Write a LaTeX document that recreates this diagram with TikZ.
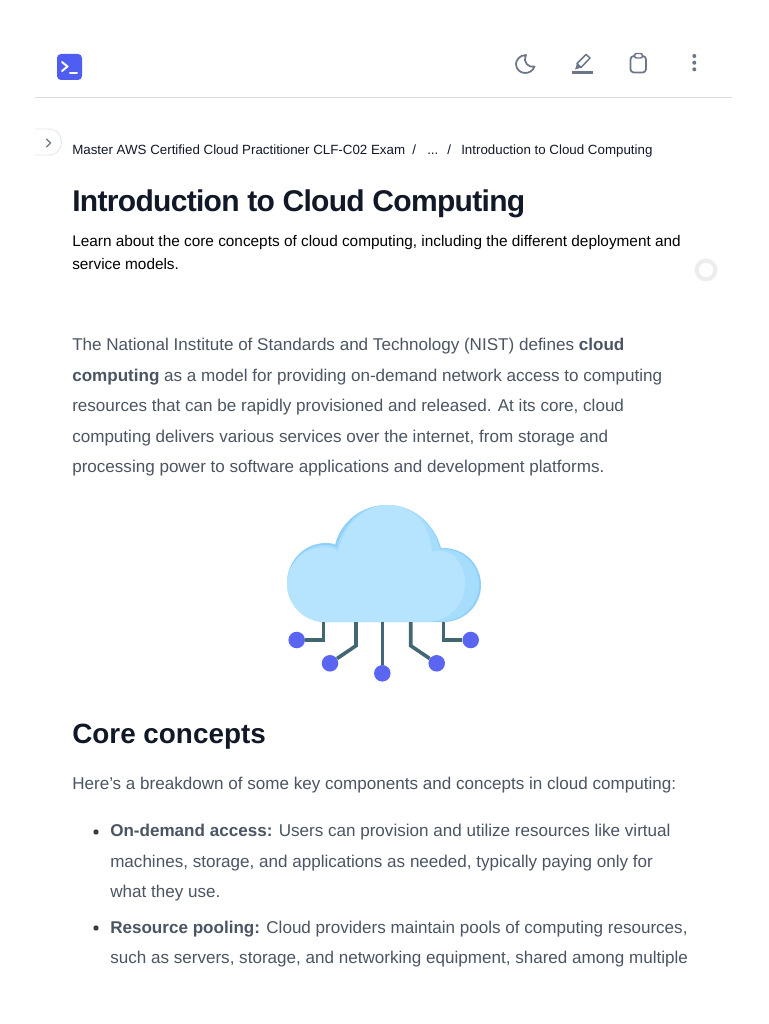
\documentclass[tikz,border=0pt]{standalone}
\usepackage{fontspec}
\setmainfont{Liberation Sans}
\newfontfamily\titlefont[LetterSpace=-2.3]{Liberation Sans}
\definecolor{inkdark}{HTML}{111827}
\definecolor{inkbody}{HTML}{4B5563}
\definecolor{inkicon}{HTML}{6B7688}
\definecolor{rulegrey}{HTML}{D9DDE2}
\definecolor{logoblue}{HTML}{4F5DF0}
\definecolor{cloudface}{HTML}{B6E3FD}
\definecolor{cloudshade}{HTML}{A6DCFC}
\definecolor{cloudrim}{HTML}{8FD0FB}
\definecolor{wirecol}{HTML}{426672}
\definecolor{dotblue}{HTML}{5A66F1}
\tikzset{
  crumb/.style={anchor=base west,inner sep=0pt,text=inkdark,font=\fontsize{10}{12}\selectfont},
  lead/.style={anchor=base west,inner sep=0pt,text=black,font=\fontsize{11.52}{13}\selectfont},
  bodyline/.style={anchor=base west,inner sep=0pt,text=inkbody,font=\fontsize{12.8}{14}\selectfont},
  wire/.style={draw=wirecol,line width=2.7pt},
  tipdot/.style={circle,fill=dotblue,minimum size=12.4pt,inner sep=0pt},
  iconline/.style={draw=inkicon,line width=1.3pt,line cap=round,line join=round}
}
\begin{document}
\begin{tikzpicture}[x=0.75pt,y=-0.75pt]
\useasboundingbox (0,0) rectangle (768,1024);
\fill[white] (0,0) rectangle (768,1024);

% top bar
\fill[logoblue,rounded corners=3pt] (57,54) rectangle (82,80);
\draw[white,line width=1.5pt,line cap=round,line join=round] (62,62) -- (67.5,66.5) -- (62,71);
\draw[white,line width=1.5pt,line cap=round] (70,73) -- (77,73);
\draw[iconline] (526,55) .. controls (519,55) and (516,61) .. (516,64) .. controls (516,69.5) and (520.5,73) .. (525,73) .. controls (529,73) and (533,71) .. (534.5,66.5) .. controls (529,68) and (522.5,63) .. (526,55);
\fill[inkicon] (575,69.5) -- (577,63.5) -- (581,67.5) -- cycle;
\draw[iconline,line width=1.1pt] (577,63.5) -- (586,54.5) -- (590,58) -- (581,67.5) -- cycle;
\draw[inkicon,line width=2.2pt] (571.5,72.8) -- (592.5,72.8);
\draw[iconline,rounded corners=2.5pt] (634,56) -- (630.5,56) -- (630.5,72.5) -- (646,72.5) -- (646,56) -- (643,56);
\draw[iconline,rounded corners=1.5pt,line width=1.1pt] (634.5,53.5) rectangle (642.5,58);
\foreach \dotrow in {56,62.7,69.3}
  \fill[inkicon] (694.3,\dotrow) circle (1.5pt);
\draw[rulegrey,line width=0.8pt] (35,97.5) -- (732,97.5);

% side toggle
\draw[rulegrey!70,line width=0.7pt] (35,129) -- (48,129) .. controls (66,129) and (66,155) .. (48,155) -- (35,155);
\draw[inkicon,line width=0.9pt,line cap=round,line join=round] (46.5,139) -- (50.5,143) -- (46.5,147);

\node[crumb] (crumbone) at (72,154) {Master AWS Certified Cloud Practitioner CLF-C02 Exam};
\node[crumb] (crumbsep) at (412,154) {/};
\node[crumb] (crumbdots) at (427,154) {...};
\node[crumb] (crumbsept) at (447,154) {/};
\node[crumb] (crumbtwo) at (461,154) {Introduction to Cloud Computing};

\node[anchor=base west,inner sep=0pt,text=inkdark,font=\titlefont\fontsize{22.5}{26}\selectfont\bfseries] (pagetitle) at (72,211) {Introduction to Cloud Computing};
\node[lead] (leadone) at (72,246) {Learn about the core concepts of cloud computing, including the different deployment and};
\node[lead] (leadtwo) at (72,269) {service models.};

\draw[black!7,line width=3pt] (706,270) circle (7pt);

\node[bodyline] (paraone) at (72,350) {The National Institute of Standards and Technology (NIST) defines \textbf{cloud}};
\node[bodyline] (paratwo) at (72,381) {\textbf{computing} as a model for providing on-demand network access to computing};
\node[bodyline] (parathree) at (72,411) {resources that can be rapidly provisioned and released. At its core, cloud};
\node[bodyline] (parafour) at (72,442) {computing delivers various services over the internet, from storage and};
\node[bodyline] (parafive) at (72,472) {processing power to software applications and development platforms.};

% cloud
\fill[cloudrim] (326,622) .. controls (304,622) and (287,605) .. (287,583) .. controls (287,561) and (304,543) .. (326,543) .. controls (331,543) and (335,544) .. (335,545) .. controls (341,521) and (362,505) .. (387,505) .. controls (413,505) and (434,523) .. (441,548) .. controls (465,547) and (481,565) .. (481,585) .. controls (481,606) and (464,622) .. (443,622) -- cycle;
\fill[cloudshade] (326,622) .. controls (304,622) and (288,605) .. (288,584) .. controls (288,563) and (304,545) .. (326,545) .. controls (331,545) and (336,547) .. (337,548) .. controls (343,524) and (362,505) .. (387,505) .. controls (413,505) and (433,523) .. (440,549) .. controls (462,548) and (479,565) .. (479,585) .. controls (479,605) and (462,621) .. (443,621) -- cycle;
\fill[cloudface] (326,622) .. controls (304,622) and (287,605) .. (287,584) .. controls (287,563) and (304,547) .. (326,547) .. controls (331,547) and (336,549) .. (338,552) .. controls (343,526) and (363,506) .. (387,505) .. controls (413,505) and (430,523) .. (432,552) .. controls (452,546) and (465,565) .. (465,582) .. controls (465,606) and (450,619) .. (430,622) -- cycle;
\coordinate (portone) at (323.3,622);
\coordinate (porttwo) at (356,622);
\coordinate (portthree) at (382.3,622);
\coordinate (portfour) at (410.7,622);
\coordinate (portfive) at (443.3,622);
\node[tipdot] (tipone) at (296.7,640) {};
\node[tipdot] (tiptwo) at (330,663.3) {};
\node[tipdot] (tipthree) at (382.3,673.3) {};
\node[tipdot] (tipfour) at (436.7,663.3) {};
\node[tipdot] (tipfive) at (470.7,640) {};
\draw[wire] (portone) -- (323.3,640) -- (tipone);
\draw[wire] (porttwo) -- (356,645.7) -- (tiptwo);
\draw[wire] (portthree) -- (tipthree);
\draw[wire] (portfour) -- (410.7,645.7) -- (tipfour);
\draw[wire] (portfive) -- (443.3,640) -- (tipfive);

\node[anchor=base west,inner sep=0pt,text=inkdark,font=\fontsize{20.9}{24}\selectfont\bfseries] (corehead) at (72,743) {Core concepts};
\node[bodyline] (intro) at (72,789) {Here’s a breakdown of some key components and concepts in cloud computing:};

\fill[inkdark!85] (96,832) circle (2pt);
\node[bodyline] (itemone) at (110,836) {\textbf{On-demand access:} Users can provision and utilize resources like virtual};
\node[bodyline] (itemtwo) at (110,867) {machines, storage, and applications as needed, typically paying only for};
\node[bodyline] (itemthree) at (110,897) {what they use.};
\fill[inkdark!85] (96,928) circle (2pt);
\node[bodyline] (itemfour) at (110,933) {\textbf{Resource pooling:} Cloud providers maintain pools of computing resources,};
\node[bodyline] (itemfive) at (110,963) {such as servers, storage, and networking equipment, shared among multiple};
\end{tikzpicture}
\end{document}
